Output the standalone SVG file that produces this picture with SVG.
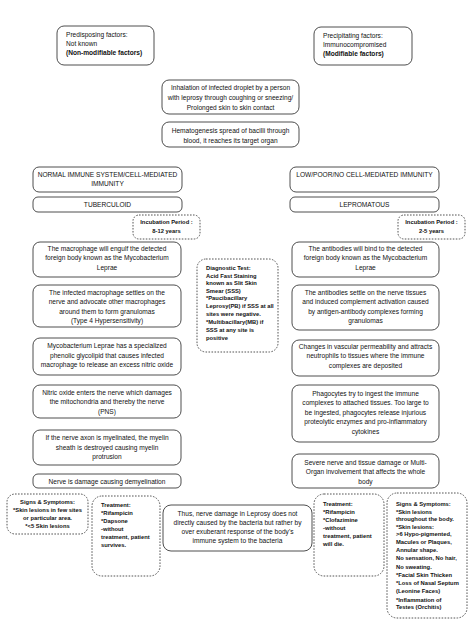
<svg xmlns="http://www.w3.org/2000/svg" width="474" height="632" viewBox="0 0 474 632">
<style>
.b{fill:#fff;stroke:#3a3a3a;stroke-width:0.9}
.d{fill:#fff;stroke:#555;stroke-width:1;stroke-dasharray:1.6 1.4}
text{font-family:"Liberation Sans",Arial,sans-serif;fill:#111}
.t{font-size:6.6px;text-anchor:middle}
.l{font-size:6.6px}
.s{font-size:5.8px;font-weight:bold}
.sc{font-size:5.8px;font-weight:bold;text-anchor:middle}
.bo{font-weight:bold}
</style>
<rect width="474" height="632" fill="#fff"/>
<g id="predisposing">
<rect class="b" x="57" y="26" width="97" height="39" rx="7"/>
<text class="l" x="66" y="37">Predisposing factors:</text>
<text class="l" x="66" y="46">Not known</text>
<text class="l bo" x="66" y="55">(Non-modifiable factors)</text>
</g>
<g id="precipitating">
<rect class="b" x="314" y="27" width="98" height="38" rx="7"/>
<text class="l" x="323" y="38">Precipitating factors:</text>
<text class="l" x="323" y="47">Immunocompromised</text>
<text class="l bo" x="323" y="56">(Modifiable factors)</text>
</g>
<g id="inhalation">
<rect class="b" x="162" y="80" width="137" height="34" rx="7"/>
<text class="t" x="230.5" y="90">Inhalation of infected droplet by a person</text>
<text class="t" x="230.5" y="100">with leprosy through coughing or sneezing/</text>
<text class="t" x="230.5" y="110">Prolonged skin to skin contact</text>
</g>
<g id="hematogenesis">
<rect class="b" x="162" y="122" width="137" height="25" rx="7"/>
<text class="t" x="230.5" y="133">Hematogenesis spread of bacilli through</text>
<text class="t" x="230.5" y="143">blood, it reaches its target organ</text>
</g>
<g id="normal">
<rect class="b" x="33" y="167" width="149" height="25" rx="6"/>
<text class="t" x="107.5" y="177">NORMAL IMMUNE SYSTEM/CELL-MEDIATED</text>
<text class="t" x="107.5" y="186">IMMUNITY</text>
</g>
<g id="tuberculoid">
<rect class="b" x="33" y="197" width="149" height="15" rx="5"/>
<text class="t" x="107.5" y="207">TUBERCULOID</text>
</g>
<g id="incubation-left">
<rect class="d" x="133" y="215" width="67" height="24" rx="6"/>
<text class="sc" x="166.5" y="224">Incubation Period :</text>
<text class="sc" x="166.5" y="233">8-12 years</text>
</g>
<g id="low">
<rect class="b" x="290" y="167" width="149" height="25" rx="6"/>
<text class="t" x="364.5" y="177">LOW/POOR/NO CELL-MEDIATED IMMUNITY</text>
</g>
<g id="lepromatous">
<rect class="b" x="290" y="197" width="149" height="15" rx="5"/>
<text class="t" x="364.5" y="207">LEPROMATOUS</text>
</g>
<g id="incubation-right">
<rect class="d" x="398" y="215" width="67" height="24" rx="6"/>
<text class="sc" x="431.5" y="224">Incubation Period :</text>
<text class="sc" x="431.5" y="233">2-5 years</text>
</g>
<g id="l1">
<rect class="b" x="33" y="242" width="148" height="35" rx="7"/>
<text class="t" x="107" y="251">The macrophage will engulf the detected</text>
<text class="t" x="107" y="260">foreign body known as the Mycobacterium</text>
<text class="t" x="107" y="270">Leprae</text>
</g>
<g id="l2">
<rect class="b" x="33" y="285" width="148" height="42" rx="7"/>
<text class="t" x="107" y="295">The infected macrophage settles on the</text>
<text class="t" x="107" y="304">nerve and advocate other macrophages</text>
<text class="t" x="107" y="314">around them to form granulomas</text>
<text class="t" x="107" y="323">(Type 4 Hypersensitivity)</text>
</g>
<g id="l3">
<rect class="b" x="33" y="338" width="148" height="37" rx="7"/>
<text class="t" x="107" y="348">Mycobacterium Leprae has a specialized</text>
<text class="t" x="107" y="358">phenolic glycolipid that causes infected</text>
<text class="t" x="107" y="367">macrophage to release an excess nitric oxide</text>
</g>
<g id="l4">
<rect class="b" x="33" y="385" width="148" height="33" rx="7"/>
<text class="t" x="107" y="395">Nitric oxide enters the nerve which damages</text>
<text class="t" x="107" y="404">the mitochondria and thereby the nerve</text>
<text class="t" x="107" y="414">(PNS)</text>
</g>
<g id="l5">
<rect class="b" x="33" y="430" width="148" height="35" rx="7"/>
<text class="t" x="107" y="440">If the nerve axon is myelinated, the myelin</text>
<text class="t" x="107" y="450">sheath is destroyed causing myelin</text>
<text class="t" x="107" y="459">protrusion</text>
</g>
<g id="l6">
<rect class="b" x="33" y="474" width="148" height="14" rx="5"/>
<text class="t" x="107" y="484">Nerve is damage causing demyelination</text>
</g>
<g id="r1">
<rect class="b" x="292" y="242" width="147" height="35" rx="7"/>
<text class="t" x="365.5" y="251">The antibodies will bind to the detected</text>
<text class="t" x="365.5" y="260">foreign body known as the Mycobacterium</text>
<text class="t" x="365.5" y="270">Leprae</text>
</g>
<g id="r2">
<rect class="b" x="292" y="285" width="147" height="45" rx="7"/>
<text class="t" x="365.5" y="295">The antibodies settle on the nerve tissues</text>
<text class="t" x="365.5" y="304">and induced complement activation caused</text>
<text class="t" x="365.5" y="314">by antigen-antibody complexes forming</text>
<text class="t" x="365.5" y="323">granulomas</text>
</g>
<g id="r3">
<rect class="b" x="292" y="340" width="147" height="36" rx="7"/>
<text class="t" x="365.5" y="349">Changes in vascular permeability and attracts</text>
<text class="t" x="365.5" y="358">neutrophils to tissues where the immune</text>
<text class="t" x="365.5" y="368">complexes are deposited</text>
</g>
<g id="r4">
<rect class="b" x="292" y="385" width="147" height="57" rx="7"/>
<text class="t" x="365.5" y="396">Phagocytes try to ingest the immune</text>
<text class="t" x="365.5" y="405">complexes to attached tissues. Too large to</text>
<text class="t" x="365.5" y="415">be ingested, phagocytes release injurious</text>
<text class="t" x="365.5" y="424">proteolytic enzymes and pro-inflammatory</text>
<text class="t" x="365.5" y="434">cytokines</text>
</g>
<g id="r5">
<rect class="b" x="292" y="454" width="147" height="34" rx="7"/>
<text class="t" x="365.5" y="465">Severe nerve and tissue damage or Multi-</text>
<text class="t" x="365.5" y="474">Organ involvement that affects the whole</text>
<text class="t" x="365.5" y="484">body</text>
</g>
<g id="diagnostic">
<rect class="d" x="197" y="259" width="81" height="93" rx="9"/>
<text class="s" x="206" y="270">Diagnostic Test:</text>
<text class="s" x="206" y="278">Acid Fast Staining</text>
<text class="s" x="206" y="285">known as Slit Skin</text>
<text class="s" x="206" y="293">Smear (SSS)</text>
<text class="s" x="206" y="300">*Paucibacillary</text>
<text class="s" x="206" y="308">Leprosy(PB) if SSS at all</text>
<text class="s" x="206" y="316">sites were negative.</text>
<text class="s" x="206" y="324">*Multibacillary(MB) if</text>
<text class="s" x="206" y="332">SSS at any site is</text>
<text class="s" x="206" y="340">positive</text>
</g>
<g id="signs-left">
<rect class="d" x="7" y="494" width="81" height="40" rx="8"/>
<text class="sc" x="47.5" y="504">Signs &amp; Symptoms:</text>
<text class="sc" x="47.5" y="512">*Skin lesions in few sites</text>
<text class="sc" x="47.5" y="520">or particular area.</text>
<text class="sc" x="47.5" y="528">*&lt;5 Skin lesions</text>
</g>
<g id="treatment-left">
<rect class="d" x="92" y="496" width="68" height="80" rx="10"/>
<text class="s" x="101" y="507">Treatment:</text>
<text class="s" x="101" y="515">*Rifampicin</text>
<text class="s" x="101" y="523">*Dapsone</text>
<text class="s" x="101" y="531">-without</text>
<text class="s" x="101" y="539">treatment, patient</text>
<text class="s" x="101" y="547">survives.</text>
</g>
<g id="conclusion">
<rect class="b" x="163" y="505" width="149" height="46" rx="8"/>
<text class="t" x="237.5" y="516">Thus, nerve damage in Leprosy does not</text>
<text class="t" x="237.5" y="525">directly caused by the bacteria but rather by</text>
<text class="t" x="237.5" y="534">over exuberant response of the body's</text>
<text class="t" x="237.5" y="543">immune system to the bacteria</text>
</g>
<g id="treatment-right">
<rect class="d" x="314" y="494" width="70" height="82" rx="10"/>
<text class="s" x="323" y="506">Treatment:</text>
<text class="s" x="323" y="514">*Rifampicin</text>
<text class="s" x="323" y="522">*Clofazimine</text>
<text class="s" x="323" y="530">-without</text>
<text class="s" x="323" y="538">treatment, patient</text>
<text class="s" x="323" y="546">will die.</text>
</g>
<g id="signs-right">
<rect class="d" x="387" y="493" width="80" height="125" rx="10"/>
<text class="s" x="396" y="506">Signs &amp; Symptoms:</text>
<text class="s" x="396" y="514">*Skin lesions</text>
<text class="s" x="396" y="521">throughout the body.</text>
<text class="s" x="396" y="529">*Skin lesions:</text>
<text class="s" x="396" y="536">&gt;6 Hypo-pigmented,</text>
<text class="s" x="396" y="544">Macules or Plaques,</text>
<text class="s" x="396" y="552">Annular shape.</text>
<text class="s" x="396" y="560">No sensation, No hair,</text>
<text class="s" x="396" y="569">No sweating.</text>
<text class="s" x="396" y="577">*Facial Skin Thicken</text>
<text class="s" x="396" y="585">*Loss of Nasal Septum</text>
<text class="s" x="396" y="593">(Leonine Faces)</text>
<text class="s" x="396" y="602">*Inflammation of</text>
<text class="s" x="396" y="609">Testes (Orchitis)</text>
</g>
</svg>
